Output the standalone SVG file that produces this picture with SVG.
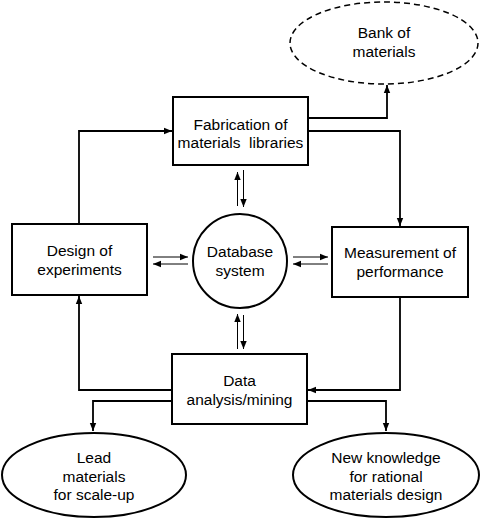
<svg xmlns="http://www.w3.org/2000/svg" width="480" height="519" viewBox="0 0 480 519">
<defs>
<marker id="ahs" viewBox="0 0 10 10" refX="10" refY="5" markerWidth="8" markerHeight="8" markerUnits="userSpaceOnUse" orient="auto"><path d="M0,1 L10,5 L0,9 z" fill="#000"/></marker>
<style>
.box{fill:#fff;stroke:#000;stroke-width:2}
.t{font-family:"Liberation Sans",Arial,sans-serif;font-size:15.5px;text-anchor:middle;fill:#000;white-space:pre}
.c{fill:none;stroke:#000;stroke-width:1.8}
.s{fill:none;stroke:#000;stroke-width:1}
</style>
</defs>
<rect width="480" height="519" fill="#fff"/>
<g id="connectors">
<path class="c" d="M79,224 V131 H172" marker-end="url(#ahs)"/>
<path class="c" d="M308,118 H387 V85" marker-end="url(#ahs)"/>
<path class="c" d="M308,131 H400 V226" marker-end="url(#ahs)"/>
<path class="c" d="M400,297 V390 H308" marker-end="url(#ahs)"/>
<path class="c" d="M172,390 H79 V296" marker-end="url(#ahs)"/>
<path class="c" d="M172,401 H93 V431" marker-end="url(#ahs)"/>
<path class="c" d="M307,401 H386 V431" marker-end="url(#ahs)"/>
<path class="s" d="M153,257 H188" marker-end="url(#ahs)"/>
<path class="s" d="M188,264 H153" marker-end="url(#ahs)"/>
<path class="s" d="M293,257 H328" marker-end="url(#ahs)"/>
<path class="s" d="M328,264 H293" marker-end="url(#ahs)"/>
<path class="s" d="M237.5,206 V172" marker-end="url(#ahs)"/>
<path class="s" d="M243.5,170 V207" marker-end="url(#ahs)"/>
<path class="s" d="M237.5,349 V314" marker-end="url(#ahs)"/>
<path class="s" d="M243.5,315 V349" marker-end="url(#ahs)"/>
</g>
<g id="bank">
<ellipse cx="384" cy="43" rx="94" ry="41" fill="#fff" stroke="#000" stroke-width="1.5" stroke-dasharray="6,4"/>
<text class="t" x="384" y="38">Bank of</text>
<text class="t" x="384" y="57">materials</text>
</g>
<g id="fabrication">
<rect class="box" x="173" y="97" width="135" height="68"/>
<text class="t" x="240.5" y="130">Fabrication of</text>
<text class="t" x="240.5" y="148">materials  libraries</text>
</g>
<g id="design">
<rect class="box" x="12" y="224" width="135" height="71"/>
<text class="t" x="79.5" y="256">Design of</text>
<text class="t" x="79.5" y="275">experiments</text>
</g>
<g id="database">
<circle cx="240" cy="261" r="47" fill="#fff" stroke="#000" stroke-width="2"/>
<text class="t" x="240" y="257">Database</text>
<text class="t" x="240" y="276">system</text>
</g>
<g id="measurement">
<rect class="box" x="332" y="227" width="136" height="70"/>
<text class="t" x="400" y="258">Measurement of</text>
<text class="t" x="400" y="277">performance</text>
</g>
<g id="data">
<rect class="box" x="172" y="354" width="135" height="70"/>
<text class="t" x="239.5" y="386">Data</text>
<text class="t" x="239.5" y="405">analysis/mining</text>
</g>
<g id="lead">
<ellipse cx="94" cy="475" rx="92" ry="42" fill="#fff" stroke="#000" stroke-width="2"/>
<text class="t" x="94" y="463">Lead</text>
<text class="t" x="94" y="482">materials</text>
<text class="t" x="94" y="500">for scale-up</text>
</g>
<g id="knowledge">
<ellipse cx="386" cy="475" rx="93" ry="42" fill="#fff" stroke="#000" stroke-width="2"/>
<text class="t" x="386" y="463">New knowledge</text>
<text class="t" x="386" y="482">for rational</text>
<text class="t" x="386" y="500">materials design</text>
</g>
</svg>
